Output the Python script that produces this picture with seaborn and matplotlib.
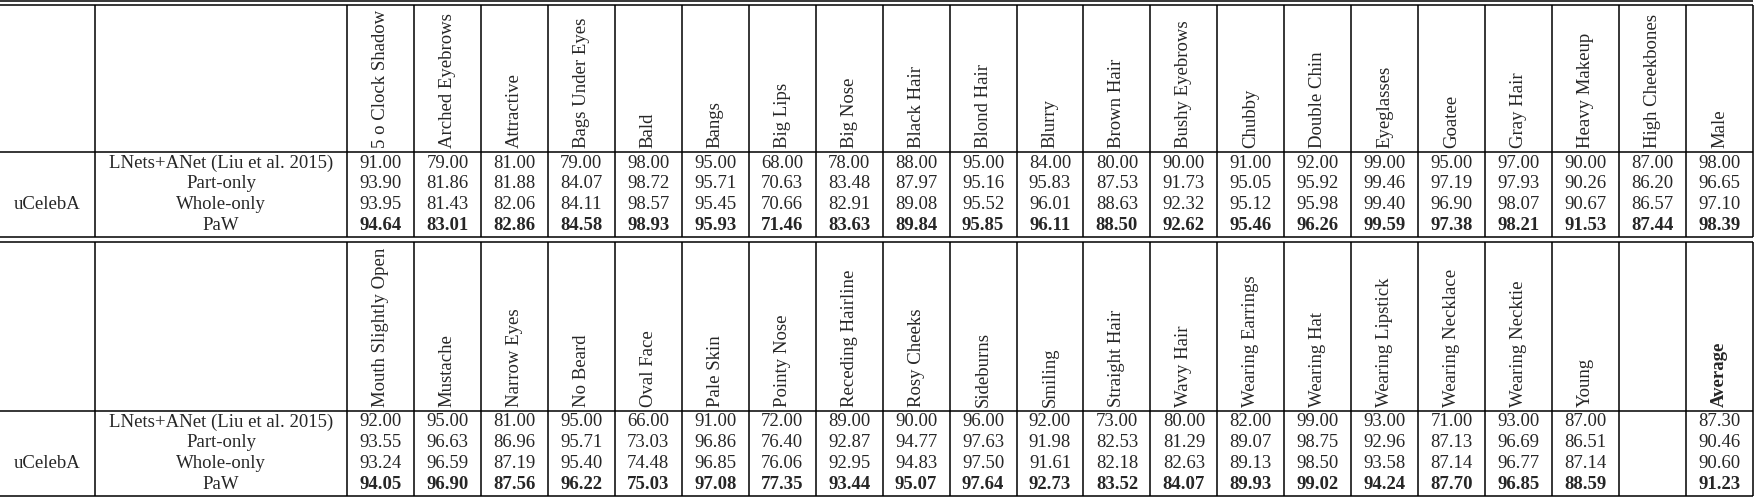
import matplotlib
matplotlib.use("Agg")
import matplotlib.pyplot as plt
import seaborn as sns

sns.set_style("white")
plt.rcParams['font.family'] = ['Liberation Serif', 'DejaVu Serif']

methods = ["LNets+ANet (Liu et al. 2015)", "Part-only", "Whole-only", "PaW"]
dataset = "uCelebA"

attrs_top = ["5 o Clock Shadow", "Arched Eyebrows", "Attractive", "Bags Under Eyes", "Bald",
             "Bangs", "Big Lips", "Big Nose", "Black Hair", "Blond Hair", "Blurry",
             "Brown Hair", "Bushy Eyebrows", "Chubby", "Double Chin", "Eyeglasses",
             "Goatee", "Gray Hair", "Heavy Makeup", "High Cheekbones", "Male"]
vals_top = [
    [91.00, 79.00, 81.00, 79.00, 98.00, 95.00, 68.00, 78.00, 88.00, 95.00, 84.00,
     80.00, 90.00, 91.00, 92.00, 99.00, 95.00, 97.00, 90.00, 87.00, 98.00],
    [93.90, 81.86, 81.88, 84.07, 98.72, 95.71, 70.63, 83.48, 87.97, 95.16, 95.83,
     87.53, 91.73, 95.05, 95.92, 99.46, 97.19, 97.93, 90.26, 86.20, 96.65],
    [93.95, 81.43, 82.06, 84.11, 98.57, 95.45, 70.66, 82.91, 89.08, 95.52, 96.01,
     88.63, 92.32, 95.12, 95.98, 99.40, 96.90, 98.07, 90.67, 86.57, 97.10],
    [94.64, 83.01, 82.86, 84.58, 98.93, 95.93, 71.46, 83.63, 89.84, 95.85, 96.11,
     88.50, 92.62, 95.46, 96.26, 99.59, 97.38, 98.21, 91.53, 87.44, 98.39],
]

attrs_bot = ["Mouth Slightly Open", "Mustache", "Narrow Eyes", "No Beard", "Oval Face",
             "Pale Skin", "Pointy Nose", "Receding Hairline", "Rosy Cheeks", "Sideburns",
             "Smiling", "Straight Hair", "Wavy Hair", "Wearing Earrings", "Wearing Hat",
             "Wearing Lipstick", "Wearing Necklace", "Wearing Necktie", "Young", "", "Average"]
vals_bot = [
    [92.00, 95.00, 81.00, 95.00, 66.00, 91.00, 72.00, 89.00, 90.00, 96.00, 92.00,
     73.00, 80.00, 82.00, 99.00, 93.00, 71.00, 93.00, 87.00, None, 87.30],
    [93.55, 96.63, 86.96, 95.71, 73.03, 96.86, 76.40, 92.87, 94.77, 97.63, 91.98,
     82.53, 81.29, 89.07, 98.75, 92.96, 87.13, 96.69, 86.51, None, 90.46],
    [93.24, 96.59, 87.19, 95.40, 74.48, 96.85, 76.06, 92.95, 94.83, 97.50, 91.61,
     82.18, 82.63, 89.13, 98.50, 93.58, 87.14, 96.77, 87.14, None, 90.60],
    [94.05, 96.90, 87.56, 96.22, 75.03, 97.08, 77.35, 93.44, 95.07, 97.64, 92.73,
     83.52, 84.07, 89.93, 99.02, 94.24, 87.70, 96.85, 88.59, None, 91.23],
]

W, H = 1758, 499
fig = plt.figure(figsize=(W / 100, H / 100), dpi=100)
ax = fig.add_axes([0, 0, 1, 1])
ax.set_xlim(0, W)
ax.set_ylim(H, 0)
ax.axis("off")

fs = 13.5
x0, x1, x2 = 0, 95, 347
cw = (1753 - x2) / 21
xr = x2 + 21 * cw
lw = 1.1


def draw_block(top, head_bot, attrs, vals):
    bottom = head_bot + 85
    # grid lines
    ax.hlines(head_bot, x0, xr, color="k", lw=lw)
    for x in [x1] + [x2 + i * cw for i in range(22)]:
        ax.vlines(x, top, bottom, color="k", lw=lw)
    # headers
    for i, a in enumerate(attrs):
        cx = x2 + (i + 0.5) * cw
        ax.text(cx, head_bot - 4, a, rotation=90, ha="center", va="bottom", fontsize=fs,
                fontweight="bold" if a == "Average" else "normal")
    # rows
    for r, m in enumerate(methods):
        cy = head_bot + 11 + r * 20.7
        ax.text((x1 + x2) / 2, cy, m, ha="center", va="center", fontsize=fs)
        for i, v in enumerate(vals[r]):
            if v is None:
                continue
            ax.text(x2 + (i + 0.5) * cw, cy, f"{v:.2f}", ha="center", va="center",
                    fontsize=fs, fontweight="bold" if m == "PaW" else "normal")
    ax.text((x0 + x1) / 2, head_bot + 11 + 2 * 20.7, dataset, ha="center", va="center",
            fontsize=fs)
    return bottom


ax.hlines([1, 5], x0, xr, color="k", lw=lw)
b = draw_block(5, 152, attrs_top, vals_top)
ax.hlines([b, b + 5], x0, xr, color="k", lw=lw)
b2 = draw_block(b + 5, 411, attrs_bot, vals_bot)
ax.hlines(b2, x0, xr, color="k", lw=lw)

fig.savefig("out.png", dpi=100)
